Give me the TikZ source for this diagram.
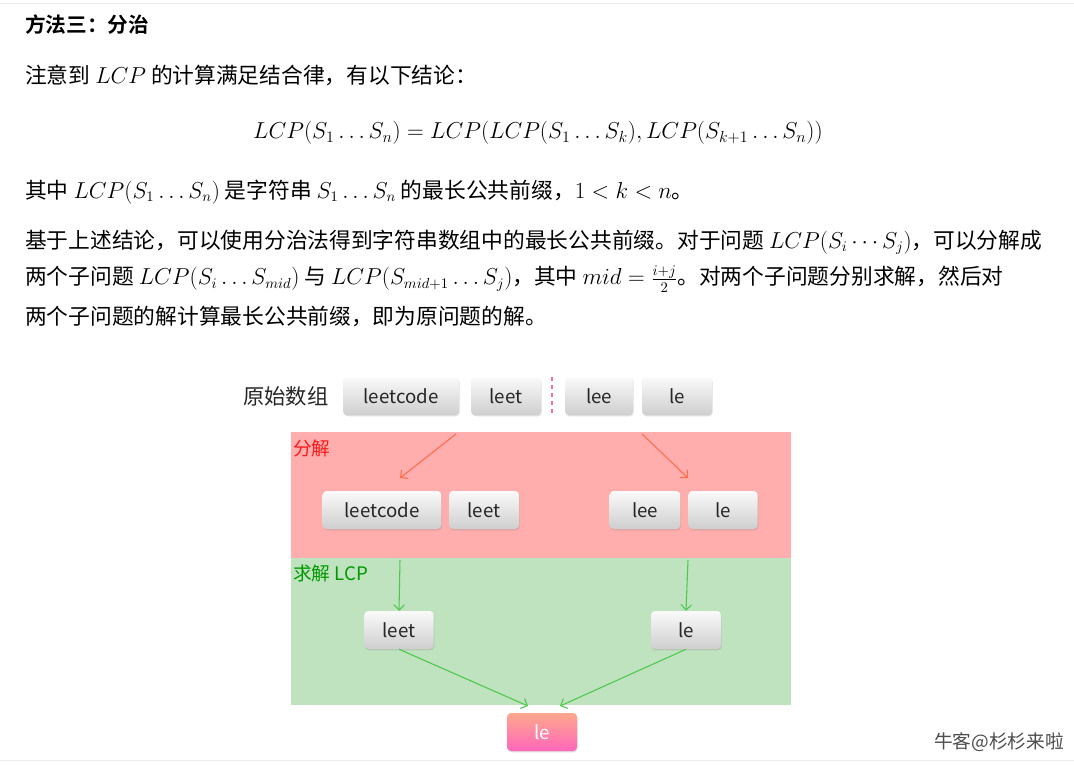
\documentclass[tikz,border=0pt]{standalone}
\usepackage{fontspec}
\newfontfamily\cjk{Noto Sans CJK SC}
\newfontfamily\cjkb{Noto Sans CJK SC Bold}
\usetikzlibrary{arrows.meta,shadows}
\begin{document}
\begin{tikzpicture}[x=0.75pt,y=-0.75pt,
  txt/.style={anchor=west,inner sep=0,font=\cjk\fontsize{16.3}{18}\selectfont},
  sbox/.style={rounded corners=3pt,top color=gray!4,bottom color=gray!38,draw=none,
     minimum height=28.5pt,inner sep=0,font=\cjk\fontsize{14}{15}\selectfont,text=black!85,
     drop shadow={opacity=0.25,shadow xshift=0.5pt,shadow yshift=-1pt}},
  ra/.style={-{Straight Barb[length=4pt]},draw=red!65!orange!70,line width=0.8pt},
  ga/.style={-{Straight Barb[length=4pt]},draw=green!70!black!70,line width=0.8pt}]
\useasboundingbox[fill=white] (0,0) rectangle (1074,764);
\draw[gray!15] (0,3)--(1074,3);
\draw[gray!15] (0,760)--(1074,760);
\node[txt,font=\cjkb\fontsize{15.5}{17}\selectfont] (t) at (25,25) {方法三：分治};
\node[txt] (l1) at (25,75) {注意到 $LCP$ 的计算满足结合律，有以下结论：};
\node[inner sep=0,font=\fontsize{16.5}{18}\selectfont] (f) at (538,133) {$LCP(S_1\ldots S_n)=LCP(LCP(S_1\ldots S_k),LCP(S_{k+1}\ldots S_n))$};
\node[txt] (l2) at (25,192) {其中 $LCP(S_1\ldots S_n)$ 是字符串 $S_1\ldots S_n$ 的最长公共前缀，$1<k<n$。};
\node[txt] (l3) at (25,242) {基于上述结论，可以使用分治法得到字符串数组中的最长公共前缀。对于问题 $LCP(S_i\cdots S_j)$，可以分解成};
\node[txt] (l4) at (25,279) {两个子问题 $LCP(S_i\ldots S_{mid})$ 与 $LCP(S_{mid+1}\ldots S_j)$，其中 $mid=\frac{i+j}{2}$。对两个子问题分别求解，然后对};
\node[txt] (l5) at (25,316) {两个子问题的解计算最长公共前缀，即为原问题的解。};
% bands
\fill[red!32!white] (291,432) rectangle (791,558);
\fill[green!55!black!25!white] (291,558) rectangle (791,705);
\node[txt,text=red!90,font=\cjk\fontsize{14}{15}\selectfont] (dj) at (293,448) {分解};
\node[txt,text=green!60!black,font=\cjk\fontsize{14}{15}\selectfont] (qj) at (293,573) {求解 LCP};
\node[txt,font=\cjk\fontsize{16}{17}\selectfont,text=black!85] (ys) at (243,396) {原始数组};
% top row
\node[sbox,minimum width=87pt] (a1) at (401,396) {leetcode};
\node[sbox,minimum width=52.5pt] (a2) at (506,396) {leet};
\node[sbox,minimum width=51pt] (a3) at (599,396) {lee};
\node[sbox,minimum width=52.5pt] (a4) at (677,396) {le};
\coordinate (d1) at (552,377); \coordinate (d2) at (552,415);
\draw[magenta!60,dashed,line width=0.8pt] (d1)--(d2);
% row 2
\node[sbox,minimum width=89pt] (b1) at (382,510) {leetcode};
\node[sbox,minimum width=52.5pt] (b2) at (484,510) {leet};
\node[sbox,minimum width=53pt] (b3) at (645,510) {lee};
\node[sbox,minimum width=52pt] (b4) at (723,510) {le};
% row 3
\node[sbox,minimum width=52pt] (c1) at (399,630) {leet};
\node[sbox,minimum width=52.5pt] (c2) at (686,630) {le};
\node[sbox,top color=red!50!orange!45,bottom color=magenta!55!red!60,text=white,minimum width=52.5pt] (r) at (542,732) {le};
% arrows
\coordinate (p1) at (456,434); \coordinate (p2) at (400,478);
\coordinate (p3) at (642,434); \coordinate (p4) at (688,478);
\draw[ra] (p1)--(p2); \draw[ra] (p3)--(p4);
\coordinate (g1) at (400,560); \coordinate (g3) at (688,560);
\draw[ga] (g1)--(c1.north); \draw[ga] (g3)--(c2.north);
\coordinate (e1) at (528,706); \coordinate (e2) at (560,706);
\draw[ga] (c1.south)--(e1); \draw[ga] (c2.south)--(e2);
\node[anchor=east,inner sep=0,font=\cjk\fontsize{14}{16}\selectfont,text=black!70] (wm) at (1064,742) {牛客@杉杉来啦};
\end{tikzpicture}
\end{document}
